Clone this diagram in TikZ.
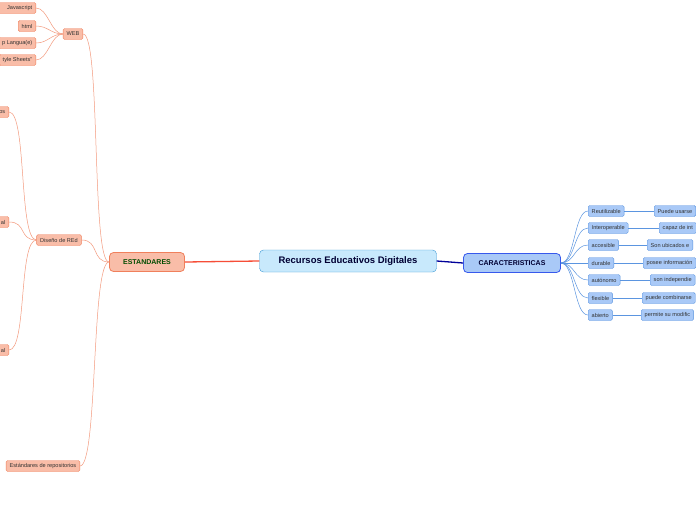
\documentclass[tikz,border=0pt]{standalone}
\usepackage{fontspec}
\setmainfont{Liberation Sans}
\definecolor{sfill}{HTML}{F9BDA8}\definecolor{sdraw}{HTML}{F0805C}
\definecolor{bfill}{HTML}{A9C9F7}\definecolor{bdraw}{HTML}{5B95E0}
\definecolor{cfill}{HTML}{C8E9FC}\definecolor{cdraw}{HTML}{3F9AD6}
\definecolor{tx}{HTML}{333333}
\begin{document}
\begin{tikzpicture}[x=1pt,y=-1pt,
 sbox/.style={draw=sdraw,fill=sfill,rounded corners=1.5pt,font=\fontsize{5.6}{6}\selectfont,text=tx,inner xsep=3.5pt,inner ysep=2pt,minimum height=11pt},
 bbox/.style={draw=bdraw,fill=bfill,rounded corners=1.5pt,font=\fontsize{5.6}{6}\selectfont,text=tx,inner xsep=3.5pt,inner ysep=2pt,minimum height=11pt},
 sl/.style={draw=sdraw!80,line width=0.5pt},
 bl/.style={draw=bdraw,line width=0.5pt}]
\useasboundingbox (0,0) rectangle (696,520);
\fill[white] (0,0) rectangle (696,520);
\node[draw=cdraw,fill=cfill,rounded corners=4pt,font=\fontsize{9.5}{10}\bfseries,text=black!80!blue,minimum width=177pt,minimum height=22pt] (c) at (348,261) {Recursos Educativos Digitales};
\node[draw=sdraw,fill=sfill,line width=0.8pt,rounded corners=4pt,font=\fontsize{7}{8}\bfseries,text=black!70!green,minimum width=75pt,minimum height=19pt] (e) at (147,262) {ESTANDARES};
\node[draw=bdraw!60!blue,fill=bfill,line width=0.8pt,rounded corners=4pt,font=\fontsize{7}{8}\bfseries,text=black!80!blue,minimum width=97pt,minimum height=19pt] (k) at (512,263) {CARACTERISTICAS};
\draw[draw=sdraw!60!red,line width=1.3pt] (c.west) -- (e.east);
\draw[draw=blue!60!black,line width=1.3pt] (c.east) -- (k.west);
% left
\node[sbox] (w) at (73,34) {WEB};
\node[sbox] (d) at (59,240) {Diseño de REd};
\node[sbox] (r) at (43,466) {Estándares de repositorios};
\foreach \n in {w,d,r} \draw[sl] (e.west) .. controls +(-18,0) and +(18,0) .. (\n.east);
\node[sbox,anchor=east] (w1) at (36,8) {\quad Javascript};
\node[sbox,anchor=east] (w2) at (36,26) {html};
\node[sbox,anchor=east] (w3) at (36,43) {p Langua(e)};
\node[sbox,anchor=east] (w4) at (36,60) {tyle Sheets"};
\foreach \n in {w1,w2,w3,w4} \draw[sl] (w.west) .. controls +(-12,0) and +(12,0) .. (\n.east);
\node[sbox,anchor=east] (d1) at (9,112) {os};
\node[sbox,anchor=east] (d2) at (9,222) {al};
\node[sbox,anchor=east] (d3) at (9,350) {al};
\foreach \n in {d1,d2,d3} \draw[sl] (d.west) .. controls +(-18,0) and +(18,0) .. (\n.east);
% right
\foreach \i/\a/\y in {1/Reutilizable/211,2/Interoperable/228,3/accesible/245,4/durable/263,5/autónomo/280,6/flexible/298,7/abierto/315}{
 \node[bbox,anchor=west] (a\i) at (588,\y) {\a};
 \draw[bl] (k.east) .. controls +(14,0) and +(-14,0) .. (a\i.west);
}
\foreach \i/\b/\x/\y in {1/Puede usarse/654/211,2/capaz de int/659/228,3/Son ubicados e/647/245,4/posee información/643/263,5/son independie/650/280,6/puede combinarse/642/298,7/permite su modific/641/315}{
 \node[bbox,anchor=west] (t\i) at (\x,\y) {\b\hspace{6pt}};
 \draw[bl] (a\i.east) -- (t\i.west);
}
\end{tikzpicture}
\end{document}
